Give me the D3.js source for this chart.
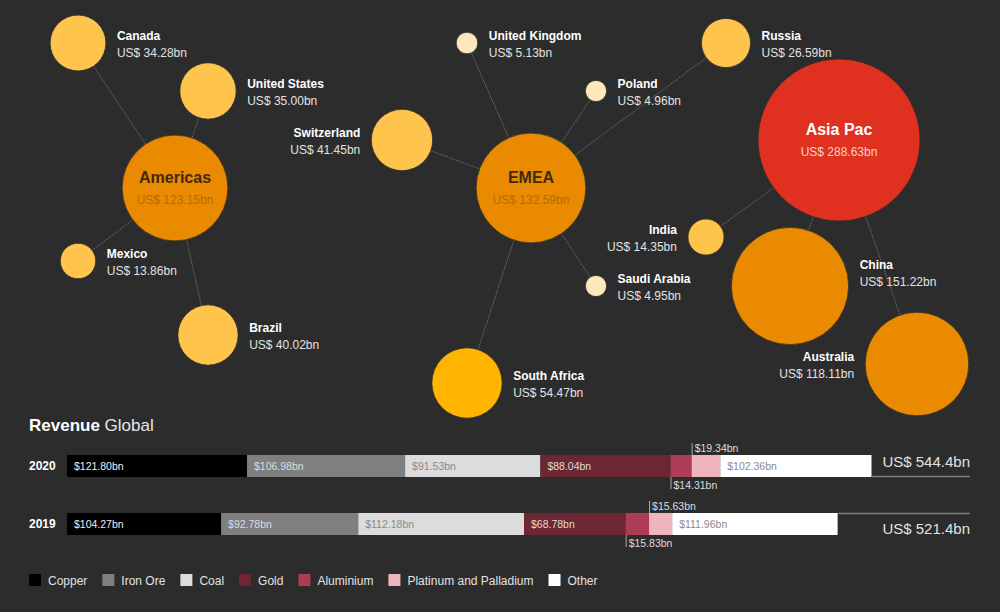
<!DOCTYPE html>
<html>
<head>
<meta charset="utf-8">
<script src="https://cdn.jsdelivr.net/npm/d3@7"></script>
<style>
  html, body { margin: 0; padding: 0; background: #2c2c2c; }
  svg { display: block; font-family: 'Liberation Sans', Arial, Helvetica, sans-serif; }
</style>
</head>
<body>
<div id="chart"></div>
<script>
// revenue by region (US$ bn)
const regions = ['Americas', 'EMEA', 'Asia Pac']
const regionValues = [123.15, 132.59, 288.63]

const countries = ['Canada', 'United States', 'Mexico', 'Brazil', 'Switzerland', 'United Kingdom',
                   'Poland', 'Russia', 'Saudi Arabia', 'South Africa', 'India', 'China', 'Australia']
const countryValues = [34.28, 35.00, 13.86, 40.02, 41.45, 5.13, 4.96, 26.59, 4.95, 54.47, 14.35, 151.22, 118.11]
const countryRegions = ['Americas', 'Americas', 'Americas', 'Americas', 'EMEA', 'EMEA',
                        'EMEA', 'EMEA', 'EMEA', 'EMEA', 'Asia Pac', 'Asia Pac', 'Asia Pac']

// revenue by commodity (US$ bn)
const years = ['2020', '2019']
const commodities = ['Copper', 'Iron Ore', 'Coal', 'Gold', 'Aluminium', 'Platinum and Palladium', 'Other']
const revenue2020 = [121.80, 106.98, 91.53, 88.04, 14.31, 19.34, 102.36]
const revenue2019 = [104.27, 92.78, 112.18, 68.78, 15.83, 15.63, 111.96]
const yearTotals = [544.4, 521.4]

// hand placed network layout
const layout = {
  'Americas':       { x: 175, y: 188 },
  'EMEA':           { x: 531, y: 188 },
  'Asia Pac':       { x: 839, y: 140 },
  'Canada':         { x: 78,  y: 43,  side: 'right' },
  'United States':  { x: 208, y: 91,  side: 'right' },
  'Mexico':         { x: 78,  y: 261, side: 'right' },
  'Brazil':         { x: 208, y: 335, side: 'right' },
  'Switzerland':    { x: 402, y: 140, side: 'left' },
  'United Kingdom': { x: 467, y: 43,  side: 'right' },
  'Poland':         { x: 596, y: 91,  side: 'right' },
  'Russia':         { x: 726, y: 43,  side: 'right' },
  'Saudi Arabia':   { x: 596, y: 286, side: 'right' },
  'South Africa':   { x: 467, y: 383, side: 'right' },
  'India':          { x: 706, y: 237, side: 'left' },
  'China':          { x: 790, y: 286, side: 'right', dy: -14 },
  'Australia':      { x: 917, y: 364, side: 'left' }
}

const width = 1000, height = 612

const fmt = d3.format('.2f')

const svg = d3.select('#chart').append('svg')
  .attr('width', width)
  .attr('height', height)

svg.append('rect').attr('width', width).attr('height', height).attr('fill', '#2c2c2c')

const rScale = d3.scaleSqrt()
  .domain([0, d3.max(regionValues)])
  .range([0, 81])

const bubbleColor = d3.scaleThreshold()
  .domain([10, 50, 100, 200])
  .range(['#fde8bc', '#fec44c', '#ffb400', '#e98a00', '#e0301f'])

const regionNodes = regions.map((r, i) => ({ name: r, value: regionValues[i], ...layout[r] }))
const countryNodes = countries.map((c, i) => ({
  name: c, value: countryValues[i], region: countryRegions[i], ...layout[c]
}))

// links
svg.append('g').classed('links', true)
  .selectAll('line')
  .data(countryNodes).enter()
  .append('line')
  .attr('x1', d => d.x)
  .attr('y1', d => d.y)
  .attr('x2', d => layout[d.region].x)
  .attr('y2', d => layout[d.region].y)
  .attr('stroke', '#6e6e6e')
  .attr('stroke-width', 1)
  .attr('stroke-dasharray', '1.5,1')

// bubbles
svg.append('g').classed('bubbles', true)
  .selectAll('circle')
  .data(regionNodes.concat(countryNodes)).enter()
  .append('circle')
  .attr('cx', d => d.x)
  .attr('cy', d => d.y)
  .attr('r', d => rScale(d.value))
  .attr('fill', d => bubbleColor(d.value))
  .attr('stroke', '#2c2c2c')
  .attr('stroke-width', 0.8)

// region labels
const regionLabel = svg.append('g').classed('region-labels', true)
  .selectAll('g')
  .data(regionNodes).enter()
  .append('g')
  .attr('transform', d => 'translate(' + d.x + ', ' + d.y + ')')
  .attr('text-anchor', 'middle')

regionLabel.append('text')
  .attr('y', -5)
  .attr('font-size', 16)
  .attr('font-weight', 'bold')
  .attr('fill', d => d.value > 200 ? '#ffffff' : '#3e2a12')
  .text(d => d.name)

regionLabel.append('text')
  .attr('y', 16)
  .attr('font-size', 12)
  .attr('fill', d => d.value > 200 ? '#f8cfc6' : '#b76b06')
  .text(d => 'US$ ' + fmt(d.value) + 'bn')

// country labels
const countryLabel = svg.append('g').classed('country-labels', true)
  .selectAll('g')
  .data(countryNodes).enter()
  .append('g')
  .attr('transform', d => {
    const off = rScale(d.value) + 11
    const x = d.side === 'left' ? d.x - off : d.x + off
    return 'translate(' + x + ', ' + (d.y + (d.dy || 0)) + ')'
  })
  .attr('text-anchor', d => d.side === 'left' ? 'end' : 'start')

countryLabel.append('text')
  .attr('y', -3.5)
  .attr('font-size', 12)
  .attr('font-weight', 'bold')
  .attr('fill', '#ffffff')
  .text(d => d.name)

countryLabel.append('text')
  .attr('y', 14)
  .attr('font-size', 12)
  .attr('fill', '#e2e2e2')
  .text(d => 'US$ ' + fmt(d.value) + 'bn')

// ---- Revenue Global ----
const title = svg.append('text')
  .attr('x', 29)
  .attr('y', 431)
  .attr('font-size', 17)
  .attr('fill', '#ffffff')
title.append('tspan').attr('font-weight', 'bold').text('Revenue')
title.append('tspan').attr('fill', '#e6e6e6').text(' Global')

const segColors = ['#000000', '#7f7f7f', '#dcdcdc', '#6e2633', '#ac3d55', '#efb5bf', '#ffffff']
const segText = ['#eeeeee', '#dddddd', '#8a8a8a', '#dddddd', '#dddddd', '#dddddd', '#8a8a8a']

const barHeight = 22
const xScale = d3.scaleLinear()
  .domain([0, d3.max([d3.sum(revenue2020), d3.sum(revenue2019)])])
  .range([67, 871.5])

const yScale = d3.scalePoint()
  .domain(years)
  .range([455, 513])

const rows = [revenue2020, revenue2019].map((vals, i) => {
  const ends = d3.cumsum(vals)
  return {
    year: years[i],
    total: yearTotals[i],
    end: ends[ends.length - 1],
    segs: vals.map((v, j) => ({ key: commodities[j], i: j, value: v, x0: ends[j] - v, x1: ends[j] }))
  }
})

const row = svg.append('g').classed('bars', true)
  .selectAll('g')
  .data(rows).enter()
  .append('g')
  .attr('transform', d => 'translate(0, ' + yScale(d.year) + ')')

row.append('text')
  .attr('x', 29)
  .attr('y', barHeight / 2 + 4)
  .attr('font-size', 12)
  .attr('font-weight', 'bold')
  .attr('fill', '#ffffff')
  .text(d => d.year)

row.selectAll('rect')
  .data(d => d.segs).enter()
  .append('rect')
  .attr('x', d => xScale(d.x0))
  .attr('width', d => xScale(d.x1) - xScale(d.x0))
  .attr('height', barHeight)
  .attr('fill', d => segColors[d.i])

// labels inside wide segments
row.selectAll('text.seg')
  .data(d => d.segs.filter(s => xScale(s.x1) - xScale(s.x0) > 40)).enter()
  .append('text').classed('seg', true)
  .attr('x', d => xScale(d.x0) + 7)
  .attr('y', barHeight / 2 + 4)
  .attr('font-size', 10.5)
  .attr('fill', d => segText[d.i])
  .text(d => '$' + fmt(d.value) + 'bn')

// small segments: Aluminium below, Platinum above
const outside = row.selectAll('g.out')
  .data(d => d.segs.filter(s => xScale(s.x1) - xScale(s.x0) <= 40)).enter()
  .append('g').classed('out', true)
  .attr('transform', d => 'translate(' + xScale(d.x0) + ', 0)')

outside.append('line')
  .attr('x1', 0.5).attr('x2', 0.5)
  .attr('y1', d => d.key === 'Aluminium' ? barHeight : -12)
  .attr('y2', d => d.key === 'Aluminium' ? barHeight + 12 : 0)
  .attr('stroke', '#aaaaaa')
  .attr('stroke-width', 1)

outside.append('text')
  .attr('x', 3)
  .attr('y', d => d.key === 'Aluminium' ? barHeight + 12 : -3)
  .attr('font-size', 10.5)
  .attr('fill', '#dddddd')
  .text(d => '$' + fmt(d.value) + 'bn')

// total rule and label
row.append('line')
  .attr('x1', d => xScale(d.end))
  .attr('x2', 970)
  .attr('y1', (d, i) => i === 0 ? barHeight - 0.5 : 0.5)
  .attr('y2', (d, i) => i === 0 ? barHeight - 0.5 : 0.5)
  .attr('stroke', '#7a7a7a')
  .attr('stroke-width', 1.5)

row.append('text')
  .attr('x', 970)
  .attr('y', (d, i) => i === 0 ? 12 : 21)
  .attr('text-anchor', 'end')
  .attr('font-size', 15)
  .attr('fill', '#e2e2e2')
  .text(d => 'US$ ' + d.total.toFixed(1) + 'bn')

// legend
const legend = svg.append('g').classed('legend', true)
  .attr('transform', 'translate(29, 574)')

let lx = 0
commodities.forEach((c, i) => {
  const item = legend.append('g').attr('transform', 'translate(' + lx + ', 0)')
  item.append('rect')
    .attr('width', 12).attr('height', 12)
    .attr('fill', segColors[i])
  const t = item.append('text')
    .attr('x', 19)
    .attr('y', 10.5)
    .attr('font-size', 12)
    .attr('fill', '#e2e2e2')
    .text(c)
  lx += 19 + t.node().getComputedTextLength() + 15
})
</script>
</body>
</html>
